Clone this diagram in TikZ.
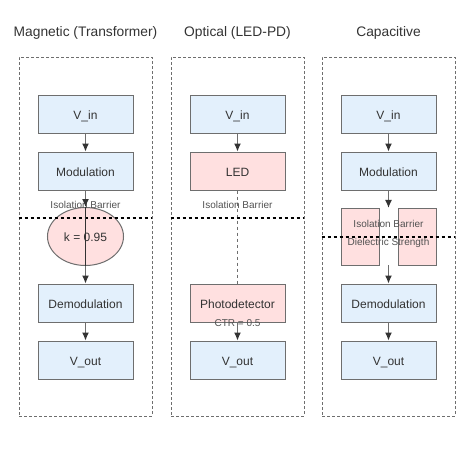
\documentclass[tikz,border=0pt]{standalone}
\usepackage{fontspec}
\setmainfont{Liberation Sans}
\usetikzlibrary{arrows.meta, shapes}
\definecolor{boxblue}{RGB}{227, 240, 252}
\definecolor{boxpink}{RGB}{255, 224, 224}
\definecolor{edgegray}{RGB}{110, 110, 110}
\definecolor{txtgray}{RGB}{51, 51, 51}
\tikzset{>={Latex[length = 8, width = 7, color = txtgray]}}
\tikzset{
  blk/.style = {draw = edgegray, line width = 1, fill = boxblue, minimum width = 95,
    minimum height = 38, inner sep = 0, text height = 11, text depth = 1,
    text = txtgray, font = \fontsize{12}{14}\selectfont},
  warm/.style = {blk, fill = boxpink},
  plate/.style = {warm, minimum width = 38, minimum height = 57},
  cluster/.style = {draw = edgegray, dash pattern = on 3pt off 2pt, line width = 0.8,
    minimum width = 133, minimum height = 359, inner sep = 0},
  heading/.style = {text = txtgray, font = \fontsize{13.8}{16}\selectfont},
  tag/.style = {text = txtgray!85, font = \fontsize{10}{12}\selectfont, inner sep = 0},
  flow/.style = {->, draw = edgegray, line width = 1},
  barrier/.style = {draw = black, dashed, line width = 1.3},
}

\begin{document}
\begin{tikzpicture}[x = 1pt, y = -1pt]
\useasboundingbox (0, 0) rectangle (474, 474);
% groups
\node[cluster] (mag) at (85.5, 236.5) {};
\node[cluster] (opt) at (237.5, 236.5) {};
\node[cluster] (cap) at (388.5, 236.5) {};
\node[heading] (magtitle) at (85.5, 33) {Magnetic (Transformer)};
\node[heading] (opttitle) at (237.5, 33) {Optical (LED-PD)};
\node[heading] (captitle) at (388.5, 33) {Capacitive};

% magnetic
\node[blk] (vinA) at (85.5, 114) {V\_in};
\node[blk] (modA) at (85.5, 171) {Modulation};
\node[warm, ellipse, minimum width = 76, minimum height = 58] (core) at (85.5, 236.5) {k = 0.95};
\node[blk] (demodA) at (85.5, 303) {Demodulation};
\node[blk] (voutA) at (85.5, 360) {V\_out};
\draw[barrier] (mag.west |- 0, 218) -- (mag.east |- 0, 218);
\node[tag] (isoA) at (85.5, 205) {Isolation Barrier};
\draw[flow] (vinA) -- (modA);
\draw[flow] (modA) -- (core.north);
\draw[line width = 1.2, black!80] (core.north) -- (core.south);
\draw[flow] (core.south) -- (demodA);
\draw[flow] (demodA) -- (voutA);

% optical
\node[blk] (vinB) at (237.5, 114) {V\_in};
\node[warm] (led) at (237.5, 171) {LED};
\node[warm] (pd) at (237.5, 303) {Photodetector};
\node[blk] (voutB) at (237.5, 360) {V\_out};
\draw[draw = edgegray, dashed, line width = 1] (led) -- (pd);
\draw[barrier] (opt.west |- 0, 218) -- (opt.east |- 0, 218);
\node[tag] (isoB) at (237.5, 205) {Isolation Barrier};
\draw[flow] (vinB) -- (led);
\draw[flow] (pd) -- (voutB);
\node[tag] (ctr) at (237.5, 323) {CTR = 0.5};

% capacitive
\node[blk] (vinC) at (388.5, 114) {V\_in};
\node[blk] (modC) at (388.5, 171) {Modulation};
\node[plate] (plateL) at (360, 236.5) {};
\node[plate] (plateR) at (417, 236.5) {};
\node[minimum width = 95, minimum height = 57, inner sep = 0] (gap) at (388.5, 236.5) {};
\node[tag] (isoC) at (388.5, 224) {Isolation Barrier};
\node[tag] (diel) at (388.5, 243) {Dielectric Strength};
\draw[barrier] (cap.west |- 0, 237) -- (cap.east |- 0, 237);
\node[blk] (demodC) at (388.5, 303) {Demodulation};
\node[blk] (voutC) at (388.5, 360) {V\_out};
\draw[flow] (vinC) -- (modC);
\draw[flow] (modC) -- (gap.north);
\draw[flow] (gap.south) -- (demodC);
\draw[flow] (demodC) -- (voutC);
\end{tikzpicture}
\end{document}
